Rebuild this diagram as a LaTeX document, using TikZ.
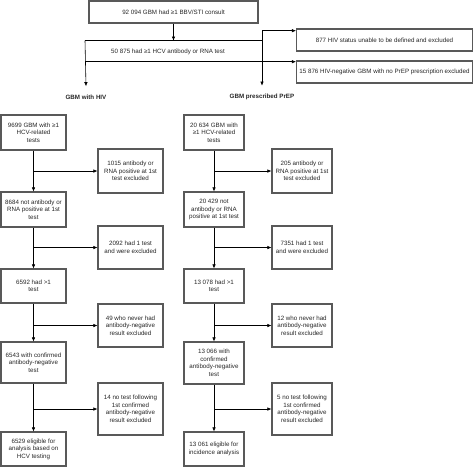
\documentclass[tikz,border=0pt]{standalone}
\usepackage{fontspec}
\setmainfont{Liberation Sans}
\usetikzlibrary{arrows.meta}

\tikzset{
  flowbox/.style={draw=black!65, line width=0.9pt, align=center, inner sep=0.5pt,
    text=black!85, font=\fontsize{5.3}{6.4}\selectfont},
  hivbox/.style={flowbox, minimum width=1.95cm},
  prepbox/.style={flowbox, minimum width=1.8cm},
  flowarrow/.style={-{Latex[length=3.5pt,width=3pt]}, line width=0.5pt},
  grouplabel/.style={font=\fontsize{5.3}{6.4}\selectfont\bfseries, text=black!85, inner sep=7pt}
}

\begin{document}
\begin{tikzpicture}[x=0.03cm, y=-0.03cm]

    \useasboundingbox (0,0) rectangle (474,467);

    % Top of the chart
    \node[flowbox, minimum width=5.07cm, minimum height=0.66cm] (consult) at (173.5,12) {92 094 GBM had ≥1 BBV/STI consult};
    \node[font=\fontsize{5.3}{6.4}\selectfont, text=black!85] (tested) at (168,51.5) {50 875 had ≥1 HCV antibody or RNA test};
    \node[flowbox, minimum width=5.28cm, minimum height=0.66cm] (undefined) at (384.5,40) {877 HIV status unable to be defined and excluded};
    \node[flowbox, minimum width=5.28cm, minimum height=0.66cm] (noprep) at (384.5,72) {15 876 HIV-negative GBM with no PrEP prescription excluded};

    \coordinate (tl) at (85,40.7);
    \coordinate (tr) at (262,40.7);
    \coordinate (bl) at (85,61.7);
    \coordinate (fork) at (262,30.7);

    \node[grouplabel] (hiv) at (86,97) {GBM with HIV};
    \node[grouplabel] (prep) at (262,97) {GBM prescribed PrEP};

    \draw[line width=0.5pt] (tl) -- (tr);
    \draw[flowarrow] (consult.south) -- (consult.south |- tl);
    \draw[flowarrow] (fork) -- (fork -| undefined.west);
    \draw[flowarrow] (bl) -- (bl -| noprep.west);
    \draw[flowarrow] (tl) -- (hiv.north);
    \draw[flowarrow] (fork) -- (prep.north);

    % GBM with HIV
    \node[hivbox, minimum height=1.05cm] (h1) at (33.5,132.5) {9699 GBM with ≥1\\HCV-related\\tests};
    \node[hivbox, minimum height=1.05cm] (h2) at (33.5,209.5) {8684 not antibody or\\RNA positive at 1st\\test};
    \node[hivbox, minimum height=1.02cm] (h3) at (33.5,286) {6592 had >1\\test};
    \node[hivbox, minimum height=1.23cm] (h4) at (33.5,362.5) {6543 with confirmed\\antibody-negative\\test};
    \node[hivbox, minimum height=1.02cm] (h5) at (33.5,449) {6529 eligible for\\analysis based on\\HCV testing};

    \node[hivbox, minimum height=1.32cm] (x1) at (130.5,171) {1015 antibody or\\RNA positive at 1st\\test excluded};
    \node[hivbox, minimum height=1.29cm] (x2) at (130.5,247.5) {2092 had 1 test\\and were excluded};
    \node[hivbox, minimum height=1.29cm] (x3) at (130.5,325.5) {49 who never had\\antibody-negative\\result excluded};
    \node[hivbox, minimum height=1.56cm] (x4) at (130.5,409) {14 no test following\\1st confirmed\\antibody-negative\\result excluded};

    \draw[flowarrow] (h1.south) -- (h2.north);
    \draw[flowarrow] (h2.south) -- (h3.north);
    \draw[flowarrow] (h3.south) -- (h4.north);
    \draw[flowarrow] (h4.south) -- (h5.north);
    \draw[flowarrow] (h1.south |- x1.west) -- (x1.west);
    \draw[flowarrow] (h2.south |- x2.west) -- (x2.west);
    \draw[flowarrow] (h3.south |- x3.west) -- (x3.west);
    \draw[flowarrow] (h4.south |- x4.west) -- (x4.west);

    % GBM prescribed PrEP
    \node[prepbox, minimum height=1.05cm] (p1) at (214,132.5) {20 634 GBM with\\≥1 HCV-related\\tests};
    \node[prepbox, minimum height=1.05cm] (p2) at (214,209.5) {20 429 not\\antibody or RNA\\positive at 1st test};
    \node[prepbox, minimum height=1.02cm] (p3) at (214,286) {13 078 had >1\\test};
    \node[prepbox, minimum height=1.26cm] (p4) at (214,363) {13 066 with\\confirmed\\antibody-negative\\test};
    \node[prepbox, minimum height=1.02cm] (p5) at (214,449) {13 061 eligible for\\incidence analysis};

    \node[prepbox, minimum height=1.32cm] (q1) at (302,171) {205 antibody or\\RNA positive at 1st\\test excluded};
    \node[prepbox, minimum height=1.29cm] (q2) at (302,247.5) {7351 had 1 test\\and were excluded};
    \node[prepbox, minimum height=1.29cm] (q3) at (302,325.5) {12 who never had\\antibody-negative\\result excluded};
    \node[prepbox, minimum height=1.56cm] (q4) at (302,409) {5 no test following\\1st confirmed\\antibody-negative\\result excluded};

    \draw[flowarrow] (p1.south) -- (p2.north);
    \draw[flowarrow] (p2.south) -- (p3.north);
    \draw[flowarrow] (p3.south) -- (p4.north);
    \draw[flowarrow] (p4.south) -- (p5.north);
    \draw[flowarrow] (p1.south |- q1.west) -- (q1.west);
    \draw[flowarrow] (p2.south |- q2.west) -- (q2.west);
    \draw[flowarrow] (p3.south |- q3.west) -- (q3.west);
    \draw[flowarrow] (p4.south |- q4.west) -- (q4.west);

\end{tikzpicture}
\end{document}
